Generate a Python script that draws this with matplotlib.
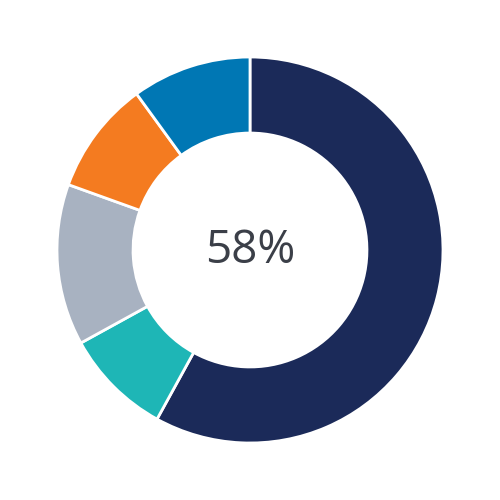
import matplotlib.pyplot as plt

# segment shares, clockwise from 12 o'clock
labels = ['Navy', 'Teal', 'Gray', 'Orange', 'Blue']
values = [58, 9, 13.5, 9.5, 10]
colors = ['#1b2a59', '#1eb6b6', '#a8b2c1', '#f47b20', '#0077b4']
center_text = '58%'

fig = plt.figure(figsize=(5, 5), dpi=100)
ax = fig.add_axes([0, 0, 1, 1])

ax.pie(values, colors=colors, startangle=90, counterclock=False,
       radius=1.0, wedgeprops=dict(width=0.394, edgecolor='white', linewidth=2))

ax.text(0, -0.005, center_text, ha='center', va='center', fontsize=33,
        family=['Open Sans', 'DejaVu Sans'], color='#3b3f48')

lim = 250 / 193
ax.set_xlim(-lim, lim)
ax.set_ylim(-lim, lim)
ax.set_aspect('equal')
ax.axis('off')

fig.savefig('out.png', dpi=100, facecolor='white')
